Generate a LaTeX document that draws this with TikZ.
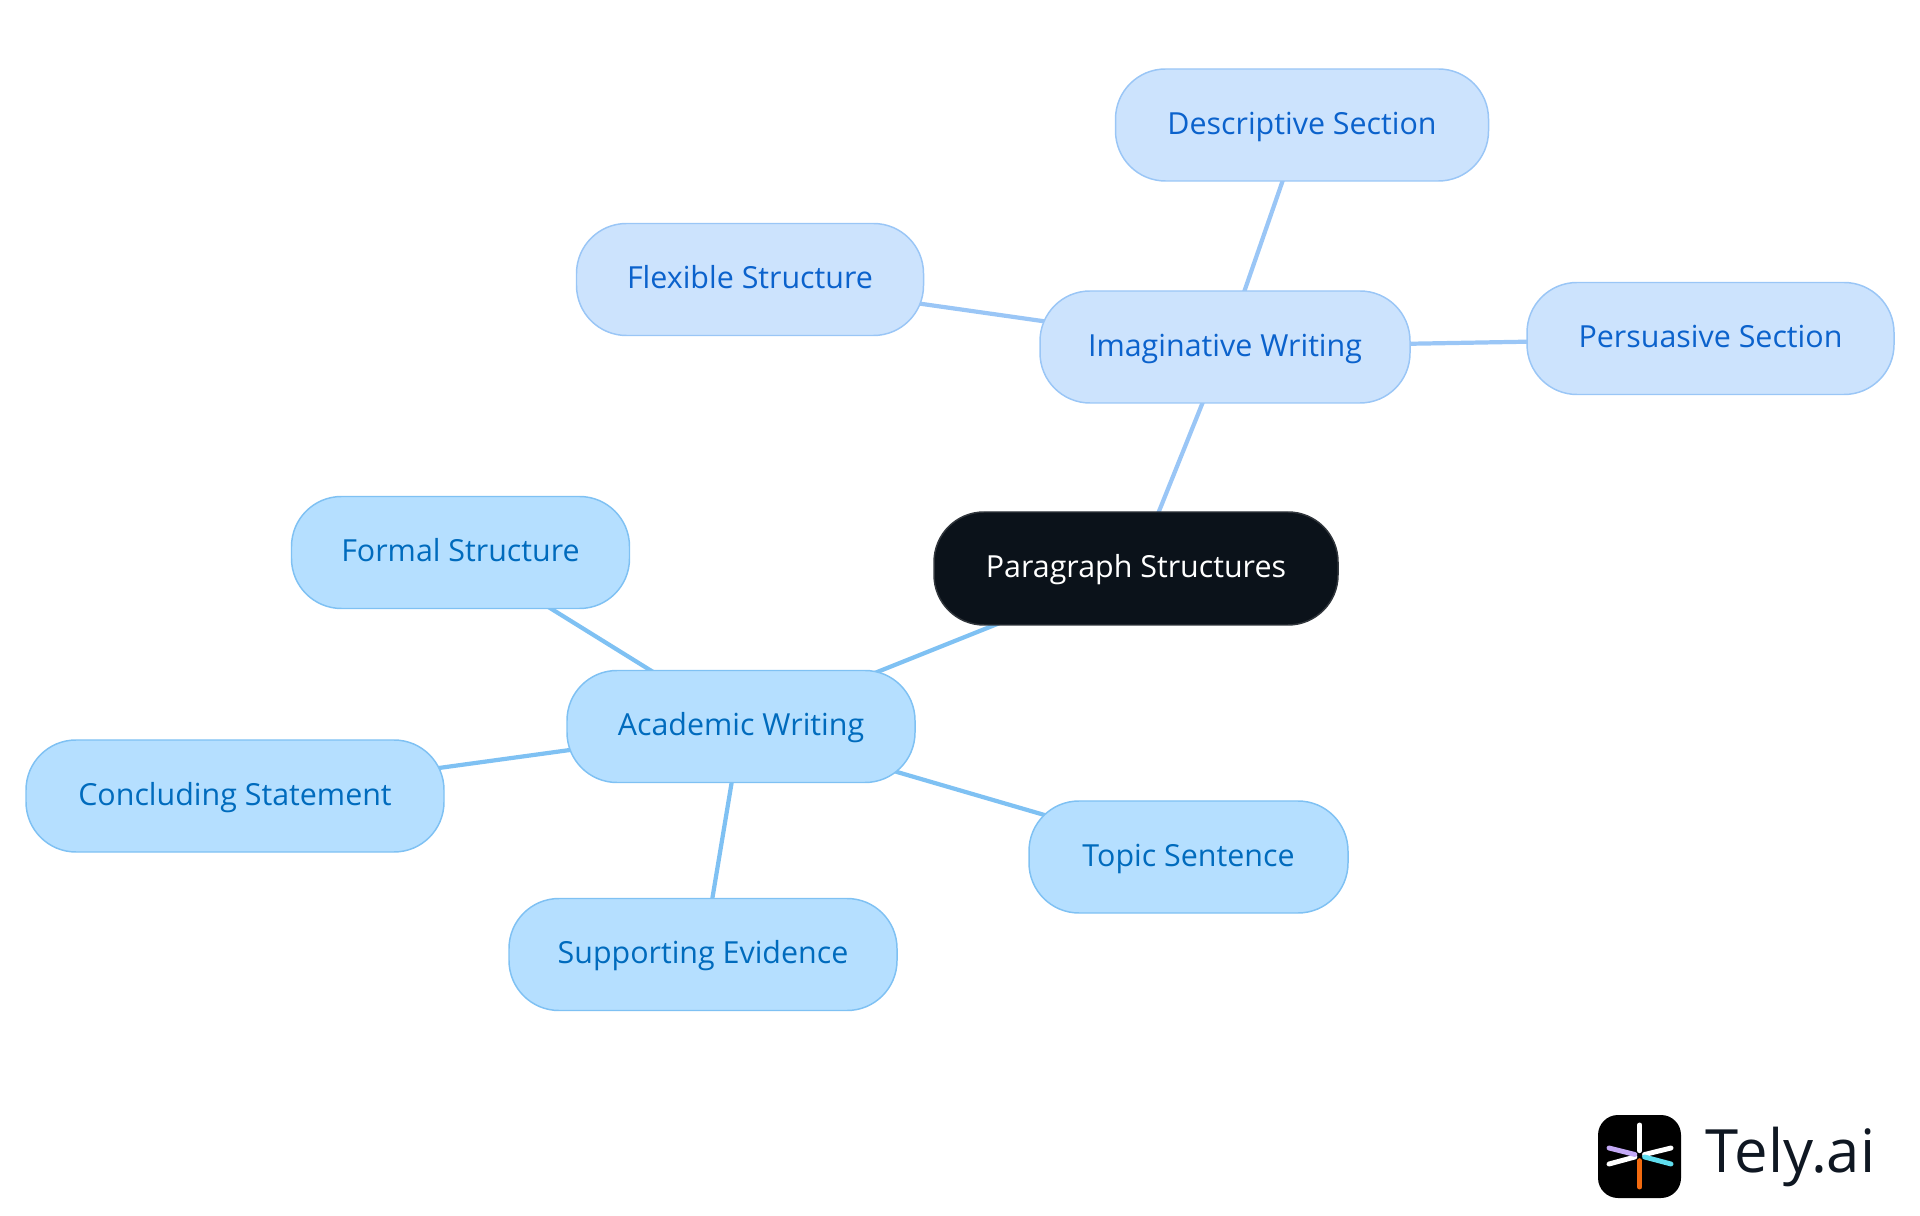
\documentclass[tikz,border=0pt]{standalone}
\usepackage{fontspec}
\setmainfont{Open Sans}
\usetikzlibrary{backgrounds}

\definecolor{rootfill}{HTML}{0B121A}
\definecolor{rootline}{HTML}{31363C}
\definecolor{imagfill}{HTML}{CCE3FD}
\definecolor{imagline}{HTML}{9AC6F6}
\definecolor{imagtext}{HTML}{0B62CC}
\definecolor{acadfill}{HTML}{B5DFFF}
\definecolor{acadline}{HTML}{7FC1F3}
\definecolor{acadtext}{HTML}{006BBD}
\definecolor{logoink}{HTML}{0F1722}
\definecolor{logoviolet}{HTML}{C3A9F5}
\definecolor{logocyan}{HTML}{5FDDEE}
\definecolor{logoorange}{HTML}{F26A0F}

\begin{document}
\begin{tikzpicture}[
    every node/.style={font=\fontsize{8.65}{10}\selectfont},
    pill/.style={draw, line width=0.42pt, rounded corners=0.5cm, minimum height=1.12cm, inner sep=0pt, text height=0.75em, text depth=0.22em},
    rootnode/.style={pill, fill=rootfill, draw=rootline, text=white, minimum height=1.13cm},
    imagnode/.style={pill, fill=imagfill, draw=imagline, text=imagtext},
    acadnode/.style={pill, fill=acadfill, draw=acadline, text=acadtext},
    imagedge/.style={draw=imagline, line width=1.2pt},
    acadedge/.style={draw=acadline, line width=1.2pt},
    spoke/.style={line width=1.4pt, line cap=round, shorten <=0.05cm}
]
    \useasboundingbox (0, 0) rectangle (19.2, 12.15);

    \node[rootnode, minimum width=4.04cm] (root) at (11.36, 6.465) {Paragraph Structures};

    \node[imagnode, minimum width=3.70cm] (imag) at (12.25, 8.68) {Imaginative Writing};
    \node[imagnode, minimum width=3.73cm] (desc) at (13.02, 10.90) {Descriptive Section};
    \node[imagnode, minimum width=3.47cm] (flex) at (7.50, 9.355) {Flexible Structure};
    \node[imagnode, minimum width=3.67cm] (pers) at (17.105, 8.765) {Persuasive Section};

    \node[acadnode, minimum width=3.48cm] (acad) at (7.41, 4.885) {Academic Writing};
    \node[acadnode, minimum width=3.38cm] (form) at (4.605, 6.625) {Formal Structure};
    \node[acadnode, minimum width=4.18cm] (conc) at (2.35, 4.19) {Concluding Statement};
    \node[acadnode, minimum width=3.88cm] (supp) at (7.03, 2.605) {Supporting Evidence};
    \node[acadnode, minimum width=3.19cm] (topi) at (11.885, 3.58) {Topic Sentence};

    \begin{scope}[on background layer]
        \draw[imagedge] (root.center) -- (imag.center);
        \draw[imagedge] (imag.center) -- (desc.center);
        \draw[imagedge] (imag.center) -- (flex.center);
        \draw[imagedge] (imag.center) -- (pers.center);
        \draw[acadedge] (root.center) -- (acad.center);
        \draw[acadedge] (acad.center) -- (form.center);
        \draw[acadedge] (acad.center) -- (conc.center);
        \draw[acadedge] (acad.center) -- (supp.center);
        \draw[acadedge] (acad.center) -- (topi.center);
    \end{scope}

    % logo
    \node[fill=black, rounded corners=0.2cm, minimum size=0.83cm, inner sep=0pt] (logomark) at (16.395, 0.585) {};
    \coordinate (hub) at (16.397, 0.593);
    \draw[spoke, white] (hub) -- (16.397, 0.90);
    \draw[spoke, white] (hub) -- (16.71, 0.67);
    \draw[spoke, white] (hub) -- (16.09, 0.51);
    \draw[spoke, logoorange] (hub) -- (16.397, 0.28);
    \draw[spoke, logoviolet] (hub) -- (16.09, 0.67);
    \draw[spoke, logocyan] (hub) -- (16.71, 0.51);
    \node[text=logoink, anchor=west, inner sep=0pt, font=\fontsize{17}{18}\selectfont] (logotext) at (17.05, 0.585) {Tely.ai};
\end{tikzpicture}
\end{document}
